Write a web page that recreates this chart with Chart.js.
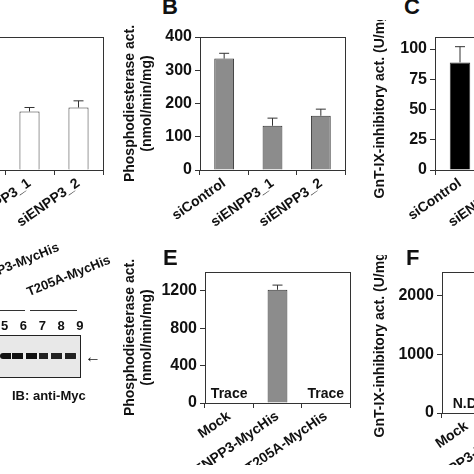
<!DOCTYPE html>
<html><head><meta charset="utf-8">
<script src="https://cdn.jsdelivr.net/npm/chart.js@4"></script>
<style>
body{margin:0;width:474px;height:474px;overflow:hidden;background:#fff;position:relative;font-family:"Liberation Sans",Arial,sans-serif;font-weight:bold;color:#111}
canvas{position:absolute}
.lbl{position:absolute;font-size:22px;font-weight:bold}
.t{position:absolute;font-size:13px;white-space:nowrap}
</style></head><body>
<canvas id="cA" width="230" height="210" style="left:-120px;top:20px"></canvas>
<canvas id="cB" width="235" height="210" style="left:120px;top:20px"></canvas>
<canvas id="cC" width="225" height="210" style="left:370px;top:20px"></canvas>
<canvas id="cE" width="240" height="210" style="left:120px;top:255px"></canvas>
<canvas id="cF" width="230" height="210" style="left:370px;top:255px"></canvas>
<div class="lbl" style="left:162px;top:-6px">B</div>
<div class="lbl" style="left:404px;top:-6px">C</div>
<div class="lbl" style="left:163px;top:245px">E</div>
<div class="lbl" style="left:406px;top:245px">F</div>
<div class="t" style="left:-8px;top:266px;transform:rotate(-22deg);transform-origin:left bottom">PP3-MycHis</div>
<div class="t" style="left:30px;top:284px;transform:rotate(-22deg);transform-origin:left bottom">T205A-MycHis</div>
<div style="position:absolute;left:0;top:310px;width:25px;border-top:1px solid #333"></div>
<div style="position:absolute;left:30px;top:310px;width:47px;border-top:1px solid #333"></div>
<div class="t" style="left:1px;top:318px;letter-spacing:4px">5 6 7 8 9</div>
<div style="position:absolute;left:-2px;top:335px;width:81px;height:41px;border:1px solid #222;background:#e8e8e8"></div>
<div style="position:absolute;left:0;top:353px;width:78px;height:6px;background:linear-gradient(90deg,#111 0 14%,#eee 14% 16%,#111 16% 30%,#eee 30% 33%,#111 33% 48%,#eee 48% 50%,#222 50% 62%,#eee 62% 66%,#222 66% 80%,#eee 80% 83%,#222 83% 97%,#eee 97%);border-radius:3px"></div>
<div class="t" style="left:85px;top:348px;font-size:16px">&#8592;</div>
<div class="t" style="left:12px;top:388px;font-size:13px">IB: anti-Myc</div>
<script>
const catsA=["siControl","siENPP3_1","siENPP3_2"];
const valsA=[90,44,47];
const errA=[5,3,5];
const catsB=["siControl","siENPP3_1","siENPP3_2"];
const valsB=[335,133,163];
const errB=[16,23,20];
const ticksB=[0,100,200,300,400];
const catsC=["siControl","siENPP3_1","siENPP3_2"];
const valsC=[89,20,25];
const errC=[13,4,5];
const ticksC=[0,25,50,75,100];
const catsE=["Mock","ENPP3-MycHis","T205A-MycHis"];
const valsE=[0,1210,0];
const errE=[0,50,0];
const textE=["Trace","","Trace"];
const ticksE=[0,400,800,1200];
const catsF=["Mock","ENPP3-MycHis","T205A-MycHis"];
const valsF=[0,2100,0];
const errF=[0,100,0];
const textF=["N.D.","",""];
const ticksF=[0,1000,2000];

const F='"Liberation Sans", Arial, sans-serif';
const boxPlugin={id:'box',afterDraw(c,a,o){const ctx=c.ctx,ca=c.chartArea;ctx.save();ctx.strokeStyle='#333';ctx.lineWidth=1;ctx.strokeRect(ca.left+0.5,ca.top+0.5,ca.right-ca.left,ca.bottom-ca.top);
 const y=c.scales.y,m=c.getDatasetMeta(0);
 (o.err||[]).forEach((e,i)=>{if(!e)return;const px=m.data[i].x,v=c.data.datasets[0].data[i];const y0=y.getPixelForValue(v),y1=y.getPixelForValue(v+e);ctx.beginPath();ctx.moveTo(px,y0);ctx.lineTo(px,y1);ctx.moveTo(px-5,y1);ctx.lineTo(px+5,y1);ctx.stroke();});
 ctx.fillStyle='#111';ctx.font='bold 14px '+F;ctx.textAlign='center';ctx.textBaseline='bottom';
 (o.txt||[]).forEach((t,i)=>{if(t)ctx.fillText(t,m.data[i].x,ca.bottom-2);});
 ctx.restore();}};
function mk(id,cats,vals,err,color,max,ticks,yW,xH,top,right,title,txt){
 new Chart(document.getElementById(id),{type:'bar',
  data:{labels:cats,datasets:[{data:vals,backgroundColor:color,borderColor:'#333',borderWidth:1,barPercentage:0.82,categoryPercentage:0.5}]},
  options:{responsive:false,animation:false,events:[],layout:{padding:{top:top,right:right}},
   plugins:{legend:{display:false},tooltip:{enabled:false},box:{err:err,txt:txt}},
   scales:{
    x:{afterFit(s){s.height=xH},grid:{offset:true,drawOnChartArea:false,tickLength:5,color:'#333'},border:{color:'#333'},
       ticks:{color:'#111',font:{family:F,weight:'bold',size:14},maxRotation:35,minRotation:35,padding:0}},
    y:{min:0,max:max,afterFit(s){s.width=yW},afterBuildTicks(s){s.ticks=ticks.map(v=>({value:v}))},
       grid:{drawOnChartArea:false,tickLength:5,color:'#333'},border:{color:'#333'},
       ticks:{color:'#111',font:{family:F,weight:'bold',size:16},callback:v=>String(v)},
       title:{display:!!title,text:title,color:'#111',font:{family:F,weight:'bold',size:14},padding:2}}}},
  plugins:[boxPlugin]});
}
mk('cA',catsA,valsA,errA,'#fff',100,ticksC,76,60,17,7,null,[]);
mk('cB',catsB,valsB,errB,'#8c8c8c',400,ticksB,80,60,17,10,['Phosphodiesterase act.','(nmol/min/mg)'],[]);
mk('cC',catsC,valsC,errC,'#000',110,ticksC,65,60,17,10,'GnT-IX-inhibitory act. (U/mg)',[]);
mk('cE',catsE,valsE,errE,'#8c8c8c',1400,ticksE,85,62,17,10,['Phosphodiesterase act.','(nmol/min/mg)'],textE);
mk('cF',catsF,valsF,errF,'#8c8c8c',2400,ticksF,72,52,17,10,'GnT-IX-inhibitory act. (U/mg)',textF);
</script></body></html>
